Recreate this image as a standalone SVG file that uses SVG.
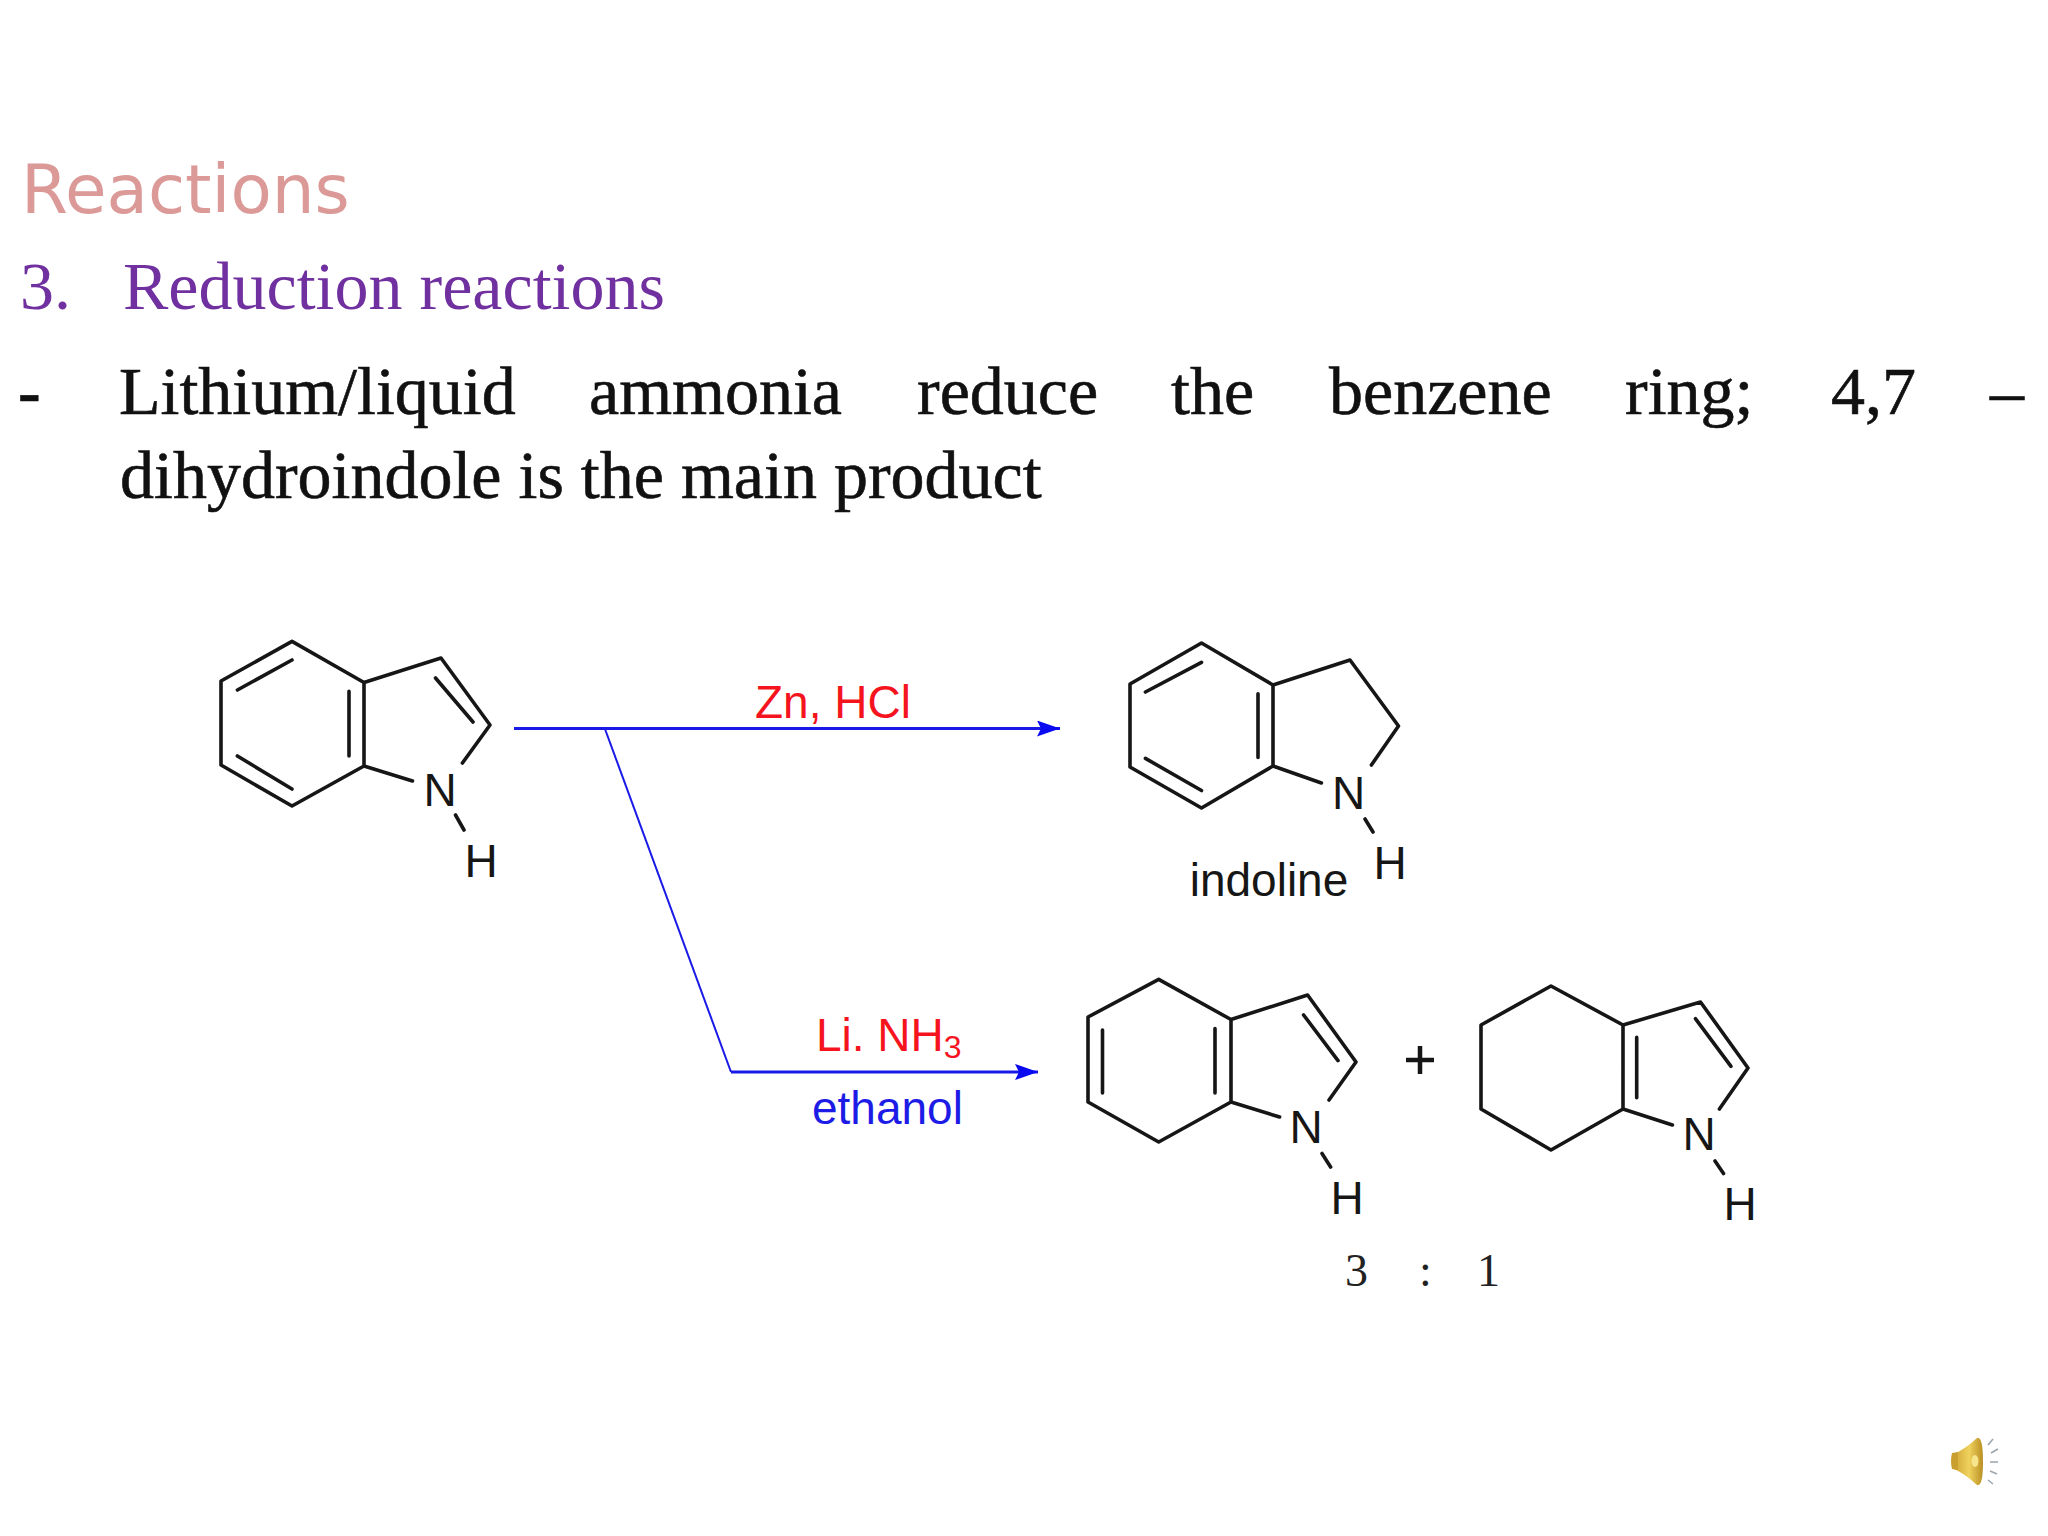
<svg xmlns="http://www.w3.org/2000/svg" width="2048" height="1536" viewBox="0 0 2048 1536">
<style>
.bond{fill:none;stroke:#161616;stroke-width:3.6;stroke-linecap:round;stroke-linejoin:round}
.atom{font-family:"Liberation Sans",Arial,sans-serif;font-size:46px;fill:#161616;text-anchor:middle}
.cond{font-family:"Liberation Sans",Arial,sans-serif;font-size:46px}
.red{fill:#f5141e}
.blue{fill:#1c1ce6}
.body{font-family:"Liberation Serif","Times New Roman",serif;font-size:68px;fill:#111;stroke:#111;stroke-width:.6}
.ratio{font-family:"Liberation Serif","Times New Roman",serif;font-size:46px;fill:#222}
.conn{fill:none;stroke:#1a1ae8}
</style>
<defs>
<marker id="head" markerUnits="userSpaceOnUse" markerWidth="24" markerHeight="18" refX="23" refY="8" orient="auto">
<path d="M0,0 L23,8 L0,16 L4,8 z" fill="#0a0af0"/>
</marker>
<linearGradient id="gold" x1="0" y1="0" x2="1" y2="0">
<stop offset="0" stop-color="#c9a02f"/><stop offset=".55" stop-color="#f0d25e"/><stop offset="1" stop-color="#b98f22"/>
</linearGradient>
</defs>
<rect width="2048" height="1536" fill="#fff"/>

<g id="title">
<text x="21" y="212.5" font-family="'DejaVu Sans',Verdana,sans-serif" font-size="67.6" fill="#db9a98">Reactions</text>
<text font-family="'Liberation Serif','Times New Roman',serif" font-size="68" fill="#7030a0" y="308.5"><tspan x="20">3.</tspan><tspan x="123">Reduction reactions</tspan></text>
</g>
<g id="body-text">
<text class="body" y="414" font-weight="bold"><tspan x="18">-</tspan></text>
<text class="body" y="414"><tspan x="119">Lithium/liquid</tspan><tspan x="589">ammonia</tspan><tspan x="917">reduce</tspan><tspan x="1171">the</tspan><tspan x="1329">benzene</tspan><tspan x="1625">ring;</tspan><tspan x="1831">4,7</tspan><tspan x="1990">–</tspan></text>
<text class="body" x="120" y="498">dihydroindole is the main product</text>
</g>

<g id="connectors">
<path class="conn" stroke-width="3" d="M514,728.5 H1060" marker-end="url(#head)"/>
<path class="conn" stroke-width="2" d="M605,729 L731,1072"/>
<path class="conn" stroke-width="3" d="M731,1072 H1038" marker-end="url(#head)"/>
</g>

<g id="labels">
<text class="cond red" x="755" y="718">Zn, HCl</text>
<text class="cond red" x="816" y="1051">Li. NH<tspan font-size="32" dy="7">3</tspan></text>
<text class="cond blue" x="812" y="1124">ethanol</text>
</g>

<g id="indole">
<path class="bond" d="M462.4,763 L490,725 L441,658 L364,682.5 L292,641.4 L221,681 V765 L292,806 L364,766 V682.5 M364,766 L412.5,781 M455.5,815 L464,830"/>
<path class="bond" d="M237.4,690 L292,660 M237.4,756 L292,789 M349,691.4 V756 M435.5,678 L473,722"/>
<text class="atom" x="440" y="806">N</text>
<text class="atom" x="481" y="877">H</text>
</g>

<g id="indoline">
<path class="bond" d="M1371.4,765 L1398.5,726 L1350,660 L1273,685 L1201.5,643 L1130,684 V767 L1201.5,808 L1273,766 V685 M1273,766 L1321.4,783 M1365,819 L1373,832"/>
<path class="bond" d="M1145.4,692 L1201.5,662.4 M1145.4,758.4 L1201.5,790.5 M1258,693.7 V757.5"/>
<text class="atom" x="1348.5" y="809">N</text>
<text class="atom" x="1390" y="879">H</text>
<text class="atom" x="1269" y="896">indoline</text>
</g>

<g id="product-dihydro">
<path class="bond" d="M1329,1100 L1356,1062 L1307.6,995 L1231,1019.5 L1158.7,979.4 L1088,1017 V1102 L1158.7,1142 L1231,1102 V1019.5 M1231,1102 L1279.6,1117 M1322,1153.5 L1330.6,1167"/>
<path class="bond" d="M1102.5,1030 V1093 M1215,1028.5 V1093 M1303.6,1015 L1338,1060.6"/>
<text class="atom" x="1306" y="1143">N</text>
<text class="atom" x="1347" y="1214">H</text>
</g>

<g id="plus">
<path d="M1406,1060 H1434 M1420,1046 V1074" fill="none" stroke="#161616" stroke-width="4.5"/>
</g>

<g id="product-tetrahydro">
<path class="bond" d="M1719.4,1109 L1748,1068 L1700.5,1002 L1623,1025 L1551,986 L1481,1025 V1109 L1551,1150 L1623,1109 V1025 M1623,1109 L1672.4,1125 M1715,1161 L1723.5,1173.6"/>
<path class="bond" d="M1636.7,1037.4 V1097.7 M1695.4,1018.7 L1731,1066.4"/>
<text class="atom" x="1699" y="1150">N</text>
<text class="atom" x="1740" y="1220">H</text>
</g>

<g id="ratio">
<text class="ratio" x="1345" y="1286">3</text>
<text class="ratio" x="1419" y="1286">:</text>
<text class="ratio" x="1477" y="1286">1</text>
</g>

<g id="speaker">
<path d="M1952,1455 Q1964,1450 1977,1438 Q1983,1436 1983,1462 Q1983,1487 1977,1485 Q1964,1473 1952,1468 Z" fill="url(#gold)"/>
<path d="M1952,1453 L1958,1452 L1958,1470 L1952,1469 Q1950,1461 1952,1453 Z" fill="#c99f30"/>
<ellipse cx="1975" cy="1461" rx="3.5" ry="6" fill="#f7e58c"/>
<path d="M1988,1445 L1993,1439 M1991,1453 L1998,1449 M1990,1462 L1998,1462 M1990,1471 L1997,1474 M1988,1480 L1993,1484" fill="none" stroke="#9aa5ae" stroke-width="1.5"/>
</g>
</svg>
